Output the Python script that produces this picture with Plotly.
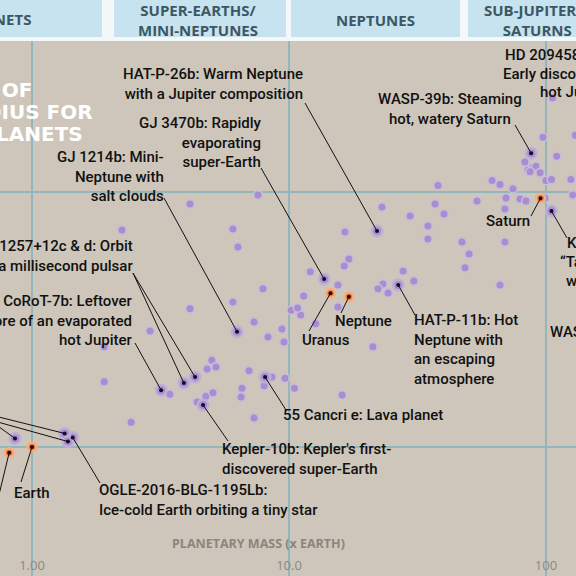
import plotly.graph_objects as go

# ---------------- DATA ----------------
# Exoplanets (mass in Earth masses, radius in Earth radii)
other_mass = [7.57, 4.12, 2.24, 6.05, 6.33, 7.92, 6.05, 110, 82.8, 85.1, 89.0, 91.4, 94.8, 86.7,
              100, 105, 125, 61.7, 66.2, 38.0, 74.4, 127, 69.9, 79.2, 83.6, 53.9, 99.1, 37.0,
              23.0, 40.1, 29.6, 69.2, 34.7, 16.5, 34.7, 47.1, 69.2, 50.2, 17.1, 16.4, 48.4, 12.1,
              27.8, 15.5, 30.6, 23.2, 22.2, 24.3, 11.4, 66.2, 10.2, 11.1, 10.8, 12.7, 15.5, 21.2,
              10.5, 16.1, 4.12, 7.31, 8.28, 9.39, 9.56, 2.88, 1.91, 1.91, 5.01, 4.80, 5.20, 6.99,
              8.59, 9.65, 6.56, 6.51, 8.00, 3.44, 4.75, 5.06, 4.39, 7.31, 2.43, 106, 97.3, 130]
other_radius = [9.73, 8.97, 7.10, 7.16, 6.09, 4.17, 3.70, 13.8, 13.1, 12.2, 12.5, 12.6, 11.9, 12.0,
                11.1, 11.2, 11.2, 11.1, 10.7, 10.6, 10.3, 9.73, 9.47, 9.39, 9.22, 9.22, 9.47, 8.97,
                8.73, 8.20, 8.05, 8.58, 7.36, 6.97, 6.54, 6.37, 6.37, 5.71, 5.46, 5.13, 5.04, 4.86,
                4.90, 4.32, 4.48, 4.36, 4.17, 4.02, 3.91, 4.32, 3.44, 3.29, 3.51, 3.04, 3.54, 2.47,
                1.70, 1.60, 3.48, 3.09, 2.70, 2.90, 2.58, 2.85, 2.47, 1.80, 2.19, 2.02, 2.06, 1.99,
                1.88, 1.86, 1.70, 1.57, 1.74, 1.61, 1.58, 1.63, 1.50, 1.30, 1.25, 23.4, 16.4, 16.7]

# Highlighted (annotated) exoplanets
hl_names = ["HAT-P-26b", "GJ 3470b", "GJ 1214b", "PSR B1257+12c", "PSR B1257+12d", "CoRoT-7b",
            "Kepler-10b", "55 Cancri e", "OGLE-2016-BLG-1195Lb", "HAT-P-11b", "WASP-39b",
            "Kepler-16b", "TRAPPIST-1 a", "TRAPPIST-1 b", "TRAPPIST-1 c"]
hl_mass = [22.0, 13.7, 6.28, 3.90, 4.31, 3.18, 4.63, 8.07, 1.44, 26.6, 87.5, 105, 0.859, 1.34, 1.38]
hl_radius = [7.03, 4.56, 2.83, 1.78, 1.88, 1.67, 1.46, 1.88, 1.09, 4.32, 14.2, 8.42, 1.08, 1.13, 1.05]

# Solar-system planets
sol_names = ["Venus", "Earth", "Uranus", "Neptune", "Saturn"]
sol_mass = [0.815, 1.0, 14.5, 17.1, 95.2]
sol_radius = [0.949, 1.0, 4.01, 3.88, 9.45]

tick_vals = [1, 10, 100]
tick_text = ["1.00", "10.0", "100"]

# ---------------- LAYOUT HELPERS ----------------
W, H, T = 576, 576, 41
XR = [-0.1245, 2.1167]
YR = [-0.506, 1.592]

def dx(px):
    return 10 ** (XR[0] + px / W * (XR[1] - XR[0]))

def dy(py):
    return 10 ** (YR[1] - (py - T) / (H - T) * (YR[1] - YR[0]))

def pxr(px):
    return px / W

def pyr(py):
    return (H - py) / (H - T)

BG = "#cec6ba"
GRID = "#93b6bc"
PURPLE = "#a88dd0"
HALO = "#c9bdd9"
ORANGE = "#f07a35"
OHALO = "#f5b084"
FONT = "Roboto"

fig = go.Figure()

# connector lines (label anchor pixel -> planet)
anchors = {
    "HAT-P-26b": (305, 103), "GJ 3470b": (261, 168), "GJ 1214b": (164, 198),
    "PSR B1257+12c": (133, 273), "PSR B1257+12d": (133, 273), "CoRoT-7b": (135, 343),
    "Kepler-10b": (228, 441), "55 Cancri e": (286, 410), "OGLE-2016-BLG-1195Lb": (100, 483),
    "HAT-P-11b": (415, 315), "WASP-39b": (515, 125), "Kepler-16b": (567, 238),
    "TRAPPIST-1 a": (-30, 406), "TRAPPIST-1 b": (-182, 372), "TRAPPIST-1 c": (-182, 372),
    "Venus": (-4, 507), "Earth": (21, 482), "Uranus": (309, 331), "Neptune": (341, 313),
    "Saturn": (531, 216),
}
lx, ly = [], []
for names, ms, rs in [(hl_names, hl_mass, hl_radius), (sol_names, sol_mass, sol_radius)]:
    for n, m, r in zip(names, ms, rs):
        a = anchors[n]
        lx += [dx(a[0]), m, None]
        ly += [dy(a[1]), r, None]

# normal points
fig.add_trace(go.Scatter(x=other_mass, y=other_radius, mode="markers",
                         marker=dict(size=8.5, color=PURPLE, line=dict(width=1.5, color=HALO)),
                         hoverinfo="skip", showlegend=False))
# highlighted points
fig.add_trace(go.Scatter(x=hl_mass, y=hl_radius, mode="markers",
                         marker=dict(size=10.5, color=PURPLE, line=dict(width=2.5, color="#bfaed8")),
                         hoverinfo="skip", showlegend=False))
# solar planets
fig.add_trace(go.Scatter(x=sol_mass, y=sol_radius, mode="markers",
                         marker=dict(size=9, color=ORANGE, line=dict(width=2.5, color=OHALO)),
                         hoverinfo="skip", showlegend=False))
# connectors
fig.add_trace(go.Scatter(x=lx, y=ly, mode="lines", line=dict(color="#111111", width=1),
                         hoverinfo="skip", showlegend=False))
# black centre dots
fig.add_trace(go.Scatter(x=hl_mass + sol_mass, y=hl_radius + sol_radius, mode="markers",
                         marker=dict(size=4, color="#140c1c"), hoverinfo="skip", showlegend=False))

ann = []

def label(text, px, py, xanchor="left", align="left", size=15, color="#111111", bold=False,
          family=FONT, weight=500):
    ann.append(dict(text=text, x=pxr(px), y=pyr(py),
                    xref="paper", yref="paper", xanchor=xanchor, yanchor="middle", align=align,
                    showarrow=False, borderpad=0,
                    font=dict(size=size, color=color, family=family,
                              weight=700 if bold else weight)))

label("HAT-P-26b: Warm Neptune<br>with a Jupiter composition", 304, 84.5, "right", "right")
label("GJ 3470b: Rapidly<br>evaporating<br>super-Earth", 263, 143, "right", "right")
label("GJ 1214b: Mini-<br>Neptune with<br>salt clouds", 165, 176, "right", "right")
label("PSR B1257+12c &amp; d: Orbit<br>a millisecond pulsar", 134, 256, "right", "right")
label("CoRoT-7b: Leftover<br>core of an evaporated<br>hot Jupiter", 134, 320, "right", "right")
label("Kepler-10b: Kepler's first-<br>discovered super-Earth", 221, 458.5)
label("55 Cancri e: Lava planet", 282, 415)
label("OGLE-2016-BLG-1195Lb:<br>Ice-cold Earth orbiting a tiny star", 98, 499.5)
label("HAT-P-11b: Hot<br>Neptune with<br>an escaping<br>atmosphere", 413, 349)
label("Uranus", 301, 340)
label("Neptune", 334, 321)
label("Saturn", 508, 221, "center", "center")
label("Earth", 13, 493)
label("WASP-39b: Steaming<br>hot, watery Saturn", 450, 109, "center", "center")
label("HD 209458b:", 504, 55)
label("Early discovered", 502, 74)
label("hot Jupiter", 539, 92)
label("Kepler-16b:", 566, 243)
label("\u201cTatooine\u201d", 559, 262)
label("world", 565, 281)
label("WASP-107b", 549, 332)

# title (white, bold)
TF = "Open Sans"
HF = "DejaVu Sans"
label("COMPARISON OF", 34, 90, "right", "right", size=20, color="white", bold=True, family=HF)
label("MASS AND RADIUS FOR", 94, 112, "right", "right", size=20, color="white", bold=True, family=HF)
label("EXOPLANETS", 84, 134, "right", "right", size=20, color="white", bold=True, family=HF)

# axis title
label("PLANETARY MASS (x EARTH)", 258, 543, "center", "center", size=12.5, color="#8a857e",
      bold=True, family=TF)

# header
HDR = "#3c5764"
label("ROCKY PLANETS", 32, 19, "right", "right", size=15, color=HDR, bold=True, family=TF)
label("SUPER-EARTHS/<br>MINI-NEPTUNES", 198, 20.5, "center", "center", size=15, color=HDR,
      bold=True, family=TF)
label("NEPTUNES", 375, 20, "center", "center", size=15, color=HDR, bold=True, family=TF)
label("SUB-JUPITERS/<br>SATURNS", 537, 20.5, "center", "center", size=15, color=HDR, bold=True,
      family=TF)

shapes = [dict(type="rect", xref="paper", yref="paper", x0=0, x1=1, y0=1, y1=pyr(0),
               fillcolor="#f4f8f9", line=dict(width=0), layer="below")]
for x0, x1 in [(-10, 102), (114, 286), (291, 460), (468, 600)]:
    shapes.append(dict(type="rect", xref="paper", yref="paper", x0=pxr(x0), x1=pxr(x1),
                       y0=pyr(37), y1=pyr(0), fillcolor="#c6e3ef", line=dict(width=0),
                       layer="below"))

fig.update_layout(
    width=W, height=H, margin=dict(l=0, r=0, t=T, b=0, pad=0),
    paper_bgcolor=BG, plot_bgcolor=BG,
    xaxis=dict(type="log", range=XR, tickvals=tick_vals, ticktext=tick_text,
               showgrid=True, gridcolor=GRID, gridwidth=2, zeroline=False, showline=False,
               ticks="", ticklabelposition="inside",
               tickfont=dict(size=13, color="#8d8881", family=TF)),
    yaxis=dict(type="log", range=YR, tickvals=[1, 10], showticklabels=False,
               showgrid=True, gridcolor=GRID, gridwidth=2, zeroline=False, showline=False,
               ticks=""),
    annotations=ann, shapes=shapes, showlegend=False,
)

fig.write_html("out.html")
